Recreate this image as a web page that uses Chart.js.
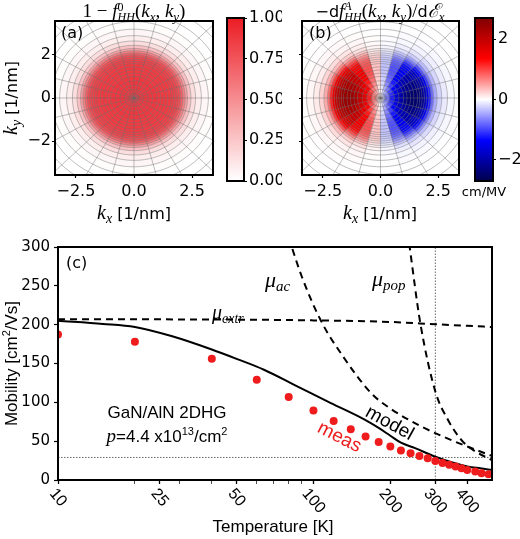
<!DOCTYPE html>
<html><head><meta charset="utf-8">
<script src="https://cdn.jsdelivr.net/npm/chart.js@4"></script>
<style>
body{margin:0;background:#fff;width:520px;height:539px;position:relative;overflow:hidden}
canvas{position:absolute}
</style></head><body>
<canvas id="cA" style="left:0;top:0" width="222" height="230"></canvas>
<canvas id="cbA" style="left:222px;top:0" width="60" height="230"></canvas>
<canvas id="cB" style="left:282px;top:0" width="180" height="230"></canvas>
<canvas id="cbB" style="left:462px;top:0" width="58" height="230"></canvas>
<canvas id="cC" style="left:0;top:230px" width="520" height="309"></canvas>
<script>
// ---------------- data ----------------
// polar mesh in k-space (1/nm)
const kRingEdges = [0,0.2,0.4,0.6,0.8,1.0,1.15,1.3,1.45,1.6,1.7,1.8,1.9,2.0,2.1,2.2,2.3,2.45,2.65,2.9,3.2,3.55,3.95,4.4,4.9];
const spokeAnglesDeg = [0,15,30,45,60,75,90,105,120,135,150,165,180,195,210,225,240,255,270,285,300,315,330,345];
// panel (a): 1 - f0 per ring
const occRingValues = [0.88,0.88,0.88,0.88,0.88,0.87,0.87,0.87,0.86,0.85,0.84,0.82,0.78,0.70,0.57,0.42,0.28,0.15,0.08,0.04,0.015,0,0,0];
// panel (b): amplitude per ring and factor per angular sector
const driftRingAmp = [0.3,0.75,1.2,1.65,2.0,2.25,2.4,2.45,2.45,2.4,2.3,2.15,1.9,1.55,1.15,0.78,0.46,0.24,0.11,0.05,0.015,0,0,0];
const driftSectorFactor = [-1,-0.92,-0.8,-0.6,-0.38,-0.13,0.13,0.38,0.6,0.8,0.92,1,1,0.92,0.8,0.6,0.38,0.13,-0.13,-0.38,-0.6,-0.8,-0.92,-1];
const kxTicks = [-2.5,0,2.5];
const kyTicks = [-2,0,2];
const cbATicks = [0,0.25,0.5,0.75,1];
const cbBTicks = [-2,0,2];
// panel (c)
const tempMeas = [10,20,40,60,80,100,120,140,160,180,200,220,240,260,280,300,320,340,360,380,400,430,455,485];
const muMeas   = [187.5,178,156,129,107,89.6,76,65.5,56,49,43,38,34.5,31,28,24.5,22,19.5,17.3,15.2,13,10.8,8.8,7.4];
const tempModel = [10,15,20,28,40,50,64,86,117,158,180,200,220,250,300,350,400,450,500];
const muModel   = [205,201,197,185,168,156,142,121,99,78,67,57,48,41,30,22.5,17.5,15,13];
const tempExtr = [10,50,100,200,300,400,500];
const muExtr   = [207,206.5,205.5,203.5,200.5,198.5,197];
const tempAc = [80,90,107,130,168,200,264,357,500];
const muAc   = [312,262,205,160,112,92,69,49.6,31];
const tempPop = [230,238,262,300,336,379,421,500];
const muPop   = [335,300,202,114,77.6,51.7,38.8,25.5];
const refTemp = 300;
const refMu = 29;
const tempTickValues = [10,20,25,30,40,50,60,70,80,90,100,200,300,400];
const tempTickLabels = ['10','','25','','','50','','','','','100','200','300','400'];
const muTicks = [0,50,100,150,200,250,300];

// ---------------- helpers ----------------
const fSerI = s => `italic ${s}px "Liberation Serif"`;
const fSer = s => `${s}px "Liberation Serif"`;
const fSans = s => `${s}px "DejaVu Sans"`;
const fLib = s => `${s}px "Liberation Sans"`;

function rich(ctx, segs, x, y, align, color){
  ctx.save(); ctx.fillStyle = color || '#000'; ctx.textBaseline='alphabetic'; ctx.textAlign='left';
  let cur=0, prevStart=0; const lay=[];
  for(const s of segs){ ctx.font=s.f; const w=ctx.measureText(s.t).width;
    const sx = s.back ? prevStart : cur; lay.push([s,sx]); if(!s.back) prevStart=sx; cur=Math.max(cur,sx+w); }
  const x0 = align==='center' ? x-cur/2 : align==='right' ? x-cur : x;
  for(const [s,sx] of lay){ ctx.font=s.f; ctx.fillText(s.t, x0+sx, y+(s.dy||0)); }
  ctx.restore();
}
function richRot(ctx, segs, x, y, deg, color){
  ctx.save(); ctx.translate(x,y); ctx.rotate(deg*Math.PI/180); rich(ctx, segs, 0, 0, 'center', color); ctx.restore();
}
function lerp(a,b,t){return a+(b-a)*t;}
function redMap(v){ const t=Math.max(0,Math.min(1,v));
  return `rgb(${Math.round(lerp(255,236,t))},${Math.round(lerp(255,28,t))},${Math.round(lerp(255,36,t))})`; }
const seismicStops=[[0,[0,0,77]],[0.25,[0,0,255]],[0.5,[255,255,255]],[0.75,[255,0,0]],[1,[128,0,0]]];
const BMAX=2.7;
function seismic(v){ let t=(v+BMAX)/(2*BMAX); t=Math.max(0,Math.min(1,t));
  for(let i=0;i<seismicStops.length-1;i++){ const [a,ca]=seismicStops[i],[b,cb]=seismicStops[i+1];
    if(t<=b){ const u=(t-a)/(b-a); return `rgb(${Math.round(lerp(ca[0],cb[0],u))},${Math.round(lerp(ca[1],cb[1],u))},${Math.round(lerp(ca[2],cb[2],u))})`; } }
  return 'rgb(128,0,0)'; }

function meshPlugin(colorFor){
  return { id:'mesh', beforeDatasetsDraw(chart){
    const {ctx, chartArea:a, scales:{x,y}} = chart;
    const P=(r,deg)=>[x.getPixelForValue(r*Math.cos(deg*Math.PI/180)), y.getPixelForValue(r*Math.sin(deg*Math.PI/180))];
    ctx.save(); ctx.beginPath(); ctx.rect(a.left,a.top,a.width,a.height); ctx.clip();
    const nS=spokeAnglesDeg.length;
    for(let i=0;i<kRingEdges.length-1;i++){
      const r0=kRingEdges[i], r1=kRingEdges[i+1];
      for(let j=0;j<nS;j++){
        const t0=spokeAnglesDeg[j], t1=j+1<nS?spokeAnglesDeg[j+1]:360;
        const col=colorFor(i,j);
        ctx.beginPath(); const n=6;
        for(let k=0;k<=n;k++){ const p=P(r1,t0+(t1-t0)*k/n); k?ctx.lineTo(p[0],p[1]):ctx.moveTo(p[0],p[1]); }
        for(let k=n;k>=0;k--){ const p=P(r0,t0+(t1-t0)*k/n); ctx.lineTo(p[0],p[1]); }
        ctx.closePath(); ctx.fillStyle=col; ctx.fill(); ctx.strokeStyle=col; ctx.lineWidth=0.6; ctx.stroke();
      }
    }
    ctx.strokeStyle='rgba(105,105,105,0.55)'; ctx.lineWidth=0.8;
    for(let i=1;i<kRingEdges.length;i++){ ctx.beginPath();
      for(let d=0;d<=360;d+=3){ const p=P(kRingEdges[i],d); d?ctx.lineTo(p[0],p[1]):ctx.moveTo(p[0],p[1]); }
      ctx.stroke(); }
    const rmax=kRingEdges[kRingEdges.length-1];
    for(const d of spokeAnglesDeg){ const p0=P(0,d), p1=P(rmax,d); ctx.beginPath(); ctx.moveTo(p0[0],p0[1]); ctx.lineTo(p1[0],p1[1]); ctx.stroke(); }
    ctx.restore();
  }};
}
const boxPlugin = { id:'box', afterDraw(chart){ const {ctx, chartArea:a}=chart; ctx.save(); ctx.strokeStyle='#000'; ctx.lineWidth=2; ctx.strokeRect(a.left,a.top,a.width,a.height); ctx.restore(); } };
function textPlugin(fn){ return { id:'txt', afterDraw(chart){ fn(chart.ctx, chart); } }; }

const baseOpts = { responsive:false, animation:false, events:[], plugins:{legend:{display:false}, tooltip:{enabled:false}} };
function tickGrid(len){ return { drawOnChartArea:false, drawTicks:true, tickLength:len, tickColor:'#000', tickWidth:1.2 }; }

// ---------------- panel (a) ----------------
function kPanel(id, area, W, H, yW, colorFor, showYLabels, textFn){
  return new Chart(document.getElementById(id), {
    type:'scatter', data:{datasets:[]},
    options:{...baseOpts,
      layout:{padding:{left:area.l-yW, top:area.t, right:W-area.r, bottom:H-area.b-30}},
      scales:{
        x:{type:'linear', min:-3.4, max:3.4, afterBuildTicks:s=>{s.ticks=kxTicks.map(v=>({value:v}));},
           afterFit:s=>{s.height=30;},
           ticks:{autoSkip:false, maxRotation:0, padding:4, color:'#000', font:{family:'DejaVu Sans', size:16},
                  callback:v=>v.toFixed(1).replace('-','−')},
           grid:tickGrid(3), border:{color:'#000', width:2}},
        y:{type:'linear', min:-3.58, max:3.58, afterBuildTicks:s=>{s.ticks=kyTicks.map(v=>({value:v}));},
           afterFit:s=>{s.width=yW;},
           ticks:{autoSkip:false, padding:1, color:'#000', font:{family:'DejaVu Sans', size:16},
                  callback:v=> showYLabels ? String(v).replace('-','−') : ''},
           grid:tickGrid(3), border:{color:'#000', width:2}}
      }},
    plugins:[meshPlugin(colorFor), boxPlugin, textPlugin(textFn)]
  });
}
function kxLabel(ctx, cx){
  rich(ctx,[{t:'k',f:fSerI(20)},{t:'x',f:fSerI(14),dy:4},{t:' [1/nm]',f:fSans(16)}], cx, 219, 'center');
}
kPanel('cA', {l:55,t:21,r:213,b:175}, 222, 230, 55,
  (i,j)=>redMap(occRingValues[i]), true,
  (ctx)=>{
    rich(ctx,[{t:'1 − ',f:fSer(19)},{t:'f',f:fSerI(19)},{t:'0',f:fSer(12),dy:-6},{t:'HH',f:fSerI(12),dy:4,back:true},
      {t:'(',f:fSer(19)},{t:'k',f:fSerI(19)},{t:'x',f:fSerI(13),dy:4},{t:', ',f:fSer(19)},{t:'k',f:fSerI(19)},{t:'y',f:fSerI(13),dy:4},{t:')',f:fSer(19)}],
      134, 17, 'center');
    rich(ctx,[{t:'(a)',f:fSans(16)}], 61, 38, 'left');
    kxLabel(ctx, 134);
    ctx.save(); ctx.translate(17,98); ctx.rotate(-Math.PI/2);
    rich(ctx,[{t:'k',f:fSerI(20)},{t:'y',f:fSerI(14),dy:4},{t:' [1/nm]',f:fSans(16)}], 0, 0, 'center');
    ctx.restore();
  });

// ---------------- panel (b) ----------------
kPanel('cB', {l:20,t:21,r:177,b:175}, 180, 230, 20,
  (i,j)=>seismic(driftRingAmp[i]*driftSectorFactor[j]), false,
  (ctx)=>{
    rich(ctx,[{t:'−d',f:fSans(16)},{t:'f',f:fSerI(19)},{t:'A',f:fSerI(12),dy:-7},{t:'HH',f:fSerI(12),dy:4,back:true},
      {t:'(',f:fSer(19)},{t:'k',f:fSerI(19)},{t:'x',f:fSerI(13),dy:4},{t:', ',f:fSer(19)},{t:'k',f:fSerI(19)},{t:'y',f:fSerI(13),dy:4},
      {t:')/',f:fSer(19)},{t:'d',f:fSans(16)},{t:'ℰ',f:fSerI(19)},{t:'x',f:fSerI(13),dy:4}],
      98, 17, 'center');
    rich(ctx,[{t:'(b)',f:fSans(16)}], 27, 38, 'left');
    kxLabel(ctx, 98);
  });

// ---------------- colorbars ----------------
function colorbar(id, area, W, H, yW, min, max, ticksArr, fmt, colorFn, extraText){
  return new Chart(document.getElementById(id), {
    type:'scatter', data:{datasets:[]},
    options:{...baseOpts,
      layout:{padding:{left:area.l, top:area.t, right:W-area.r-yW, bottom:H-area.b}},
      scales:{
        x:{display:false, min:0, max:1},
        y:{position:'right', min:min, max:max, afterBuildTicks:s=>{s.ticks=ticksArr.map(v=>({value:v}));},
           afterFit:s=>{s.width=yW;},
           ticks:{autoSkip:false, padding:2, color:'#000', font:{family:'DejaVu Sans', size:16}, callback:fmt},
           grid:tickGrid(3), border:{color:'#000', width:2}}
      }},
    plugins:[{id:'grad', beforeDatasetsDraw(chart){
        const {ctx, chartArea:a, scales:{y}} = chart;
        const y0=y.getPixelForValue(min), y1=y.getPixelForValue(max);
        const g=ctx.createLinearGradient(0,y0,0,y1);
        for(let k=0;k<=40;k++){ g.addColorStop(k/40, colorFn(min+(max-min)*k/40)); }
        ctx.save(); ctx.fillStyle=g; ctx.fillRect(a.left,a.top,a.width,a.height); ctx.restore();
      }}, boxPlugin, textPlugin(extraText||(()=>{}))]
  });
}
colorbar('cbA', {l:5,t:18,r:22,b:181}, 60, 230, 38, 0, 1, cbATicks, v=>v.toFixed(2), redMap);
colorbar('cbB', {l:13,t:18,r:31,b:181}, 58, 230, 27, -BMAX, BMAX, cbBTicks, v=>String(v).replace('-','−'), seismic,
  (ctx)=>{ rich(ctx,[{t:'cm/MV',f:fSans(13)}], 22, 196, 'center'); });

// ---------------- panel (c) ----------------
const pts=(xs,ys)=>xs.map((t,i)=>({x:t,y:ys[i]}));
const dashed = {showLine:true, borderColor:'#000', borderWidth:2, borderDash:[7,5], pointRadius:0, cubicInterpolationMode:'monotone', clip:0};
new Chart(document.getElementById('cC'), {
  type:'scatter',
  data:{datasets:[
    {label:'meas', data:pts(tempMeas,muMeas), pointRadius:4, backgroundColor:'#ee1c1c', borderWidth:0, showLine:false, clip:0},
    {label:'model', data:pts(tempModel,muModel), showLine:true, borderColor:'#000', borderWidth:2, pointRadius:0, cubicInterpolationMode:'monotone', clip:0},
    {label:'extr', data:pts(tempExtr,muExtr), ...dashed},
    {label:'ac', data:pts(tempAc,muAc), ...dashed},
    {label:'pop', data:pts(tempPop,muPop), ...dashed},
    {label:'vref', data:[{x:refTemp,y:0},{x:refTemp,y:300}], showLine:true, borderColor:'#444', borderWidth:0.8, borderDash:[1.5,1.5], pointRadius:0},
    {label:'href', data:[{x:10,y:refMu},{x:500,y:refMu}], showLine:true, borderColor:'#444', borderWidth:0.8, borderDash:[1.5,1.5], pointRadius:0}
  ]},
  options:{...baseOpts,
    layout:{padding:{left:0, top:17, right:28, bottom:19}},
    scales:{
      x:{type:'logarithmic', min:10, max:500,
         afterBuildTicks:s=>{s.ticks=tempTickValues.map(v=>({value:v}));},
         afterFit:s=>{s.height=40;},
         ticks:{autoSkip:false, maxRotation:0, callback:()=>'' },
         grid:{drawOnChartArea:false, drawTicks:true, tickLength:4, tickColor:'#000',
               tickWidth:c=>{ const k=tempTickValues.indexOf(c.tick&&c.tick.value); return (k>=0&&tempTickLabels[k])?1.3:0.7; }},
         border:{color:'#000', width:2}},
      y:{type:'linear', min:0, max:300,
         afterBuildTicks:s=>{s.ticks=muTicks.map(v=>({value:v}));},
         afterFit:s=>{s.width=58;},
         ticks:{autoSkip:false, padding:4, color:'#000', font:{family:'DejaVu Sans', size:15}},
         grid:tickGrid(4), border:{color:'#000', width:2}}
    }},
  plugins:[boxPlugin, textPlugin((ctx, chart)=>{
    const a=chart.chartArea, xs=chart.scales.x;
    ctx.save(); ctx.font=fLib(16);
    tempTickValues.forEach((v,i)=>{ const lab=tempTickLabels[i]; if(!lab) return;
      const w=ctx.measureText(lab).width, h=12, ang=50*Math.PI/180;
      const bh=w*Math.sin(ang)+h*Math.cos(ang);
      const px=xs.getPixelForValue(v), py=a.bottom+7+bh/2;
      ctx.save(); ctx.translate(px,py); ctx.rotate(ang); ctx.textAlign='center'; ctx.textBaseline='middle'; ctx.fillStyle='#000';
      ctx.fillText(lab,0,0); ctx.restore(); });
    ctx.restore();
    rich(ctx,[{t:'Temperature [K]',f:fLib(17)}], 273, 302, 'center');
    ctx.save(); ctx.translate(17,133.5); ctx.rotate(-Math.PI/2);
    rich(ctx,[{t:'Mobility [cm',f:fLib(17)},{t:'2',f:fLib(11),dy:-7},{t:'/Vs]',f:fLib(17)}],0,0,'center');
    ctx.restore();
    rich(ctx,[{t:'(c)',f:fSans(16)}], 66, 38, 'left');
    rich(ctx,[{t:'μ',f:fSerI(22)},{t:'ac',f:fSerI(15),dy:4}], 265, 57, 'left');
    rich(ctx,[{t:'μ',f:fSerI(22)},{t:'pop',f:fSerI(15),dy:4}], 372, 56, 'left');
    rich(ctx,[{t:'μ',f:fSerI(20)},{t:'extr',f:fSerI(14),dy:4}], 212, 89, 'left');
    rich(ctx,[{t:'GaN/AlN 2DHG',f:fLib(17)}], 167, 188, 'center');
    rich(ctx,[{t:'p',f:fSerI(19)},{t:'=4.4 x10',f:fLib(17)},{t:'13',f:fLib(11),dy:-7},{t:'/cm',f:fLib(17)},{t:'2',f:fLib(11),dy:-7}], 167, 212, 'center');
    richRot(ctx,[{t:'model',f:fLib(19)}], 387, 198, 29, '#000');
    richRot(ctx,[{t:'meas',f:fLib(19)}], 337, 212, 27, '#ee1c1c');
  })]
});
</script>
</body></html>
